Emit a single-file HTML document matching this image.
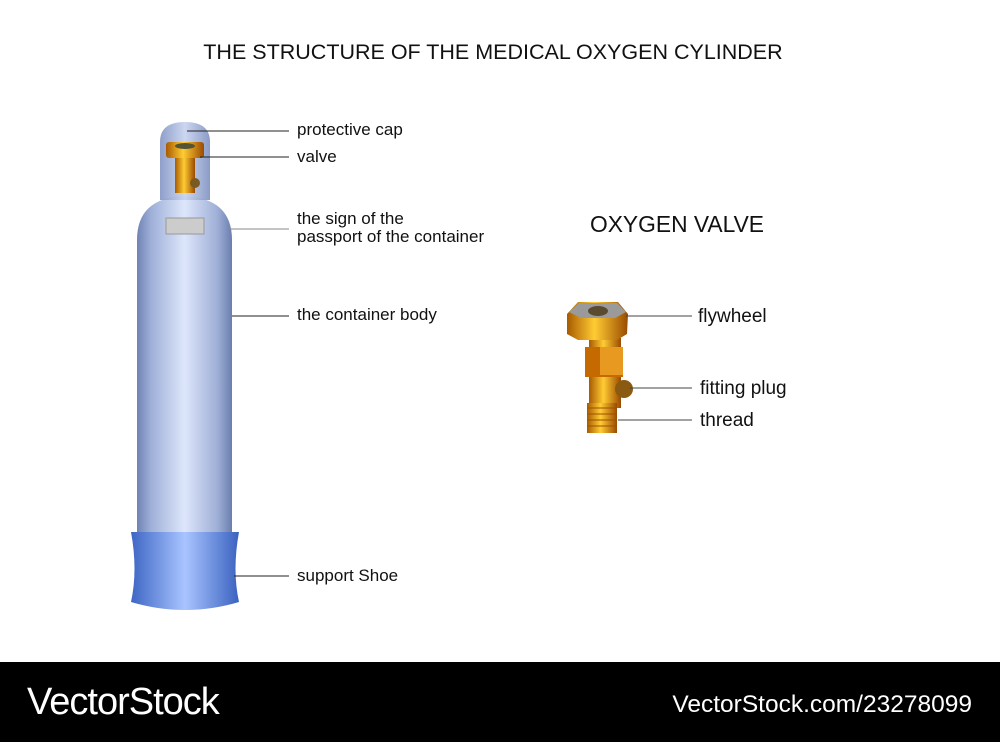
<!DOCTYPE html>
<html><head><style>
body{margin:0;width:1000px;height:742px;overflow:hidden;background:#fff;font-family:"Liberation Sans",sans-serif}
</style></head><body>
<svg width="1000" height="742" xmlns="http://www.w3.org/2000/svg" style="position:absolute;left:0;top:0">
<defs>
<linearGradient id="bg" x1="0" x2="1" y1="0" y2="0">
<stop offset="0" stop-color="#6f83b4"/><stop offset="0.15" stop-color="#9fb0d8"/><stop offset="0.5" stop-color="#dde6fb"/><stop offset="0.85" stop-color="#9eaed6"/><stop offset="1" stop-color="#6a7eae"/></linearGradient>
<linearGradient id="sg" x1="0" x2="1" y1="0" y2="0">
<stop offset="0" stop-color="#3d66c4"/><stop offset="0.5" stop-color="#a9c4ff"/><stop offset="1" stop-color="#3a62c0"/></linearGradient>
<linearGradient id="cg" x1="0" x2="1" y1="0" y2="0">
<stop offset="0" stop-color="#8294c4"/><stop offset="0.5" stop-color="#c6d2ee"/><stop offset="1" stop-color="#7e90c0"/></linearGradient>
<linearGradient id="gg" x1="0" x2="1" y1="0" y2="0">
<stop offset="0" stop-color="#a85a00"/><stop offset="0.45" stop-color="#ffcc33"/><stop offset="1" stop-color="#9a4a00"/></linearGradient>
</defs>
<text x="493" y="59" font-size="21.5" text-anchor="middle" fill="#111">THE STRUCTURE OF THE MEDICAL OXYGEN CYLINDER</text>
<path d="M137 240 Q137 198 184 196 Q232 198 232 240 L232 540 L137 540 Z" fill="url(#bg)"/>
<path d="M131 532 L239 532 Q232 570 239 602 Q185 618 131 602 Q138 570 131 532 Z" fill="url(#sg)"/>
<path d="M160 200 L160 142 Q160 122 185 122 Q210 122 210 142 L210 200 Z" fill="url(#cg)" opacity="0.9"/>
<rect x="175" y="158" width="20" height="35" fill="url(#gg)"/>
<rect x="166" y="142" width="38" height="16" rx="3" fill="url(#gg)"/>
<ellipse cx="185" cy="146" rx="10" ry="3" fill="#553"/>
<circle cx="195" cy="183" r="5" fill="#7a5a20"/>
<rect x="166" y="218" width="38" height="16" fill="#ccc" stroke="#999"/>
<g stroke="#222" stroke-width="1">
<line x1="187" y1="131" x2="289" y2="131"/>
<line x1="200" y1="157" x2="289" y2="157"/>
<line x1="228" y1="229" x2="289" y2="229" stroke="#888"/>
<line x1="232" y1="316" x2="289" y2="316"/>
<line x1="234" y1="576" x2="289" y2="576"/>
</g>
<g font-size="17" fill="#111">
<text x="297" y="135">protective cap</text>
<text x="297" y="162">valve</text>
<text x="297" y="224">the sign of the</text>
<text x="297" y="242">passport of the container</text>
<text x="297" y="320">the container body</text>
<text x="297" y="581">support Shoe</text>
</g>
<text x="590" y="232" font-size="22.8" fill="#111">OXYGEN VALVE</text>
<rect x="589" y="338" width="32" height="70" fill="url(#gg)"/>
<rect x="585" y="347" width="38" height="30" fill="#c56a00"/>
<rect x="600" y="347" width="23" height="28" fill="#e89a20"/>
<rect x="587" y="403" width="30" height="30" fill="url(#gg)"/>
<g stroke="#a05000" stroke-width="1"><line x1="587" y1="408" x2="617" y2="408"/><line x1="587" y1="414" x2="617" y2="414"/><line x1="587" y1="420" x2="617" y2="420"/><line x1="587" y1="426" x2="617" y2="426"/></g>
<circle cx="624" cy="389" r="9" fill="#8a5a10"/>
<path d="M567 314 L578 302 L618 302 L628 314 L627 334 L617 340 L578 340 L567 334 Z" fill="url(#gg)"/>
<path d="M569 312 L579 303 L617 303 L626 312 L615 318 L581 318 Z" fill="#9a9a9a"/>
<ellipse cx="598" cy="311" rx="10" ry="5" fill="#5a4a30"/>
<g stroke="#444" stroke-width="1">
<line x1="626" y1="316" x2="692" y2="316"/>
<line x1="630" y1="388" x2="692" y2="388"/>
<line x1="618" y1="420" x2="692" y2="420"/>
</g>
<g font-size="19" fill="#111">
<text x="698" y="322">flywheel</text>
<text x="700" y="394">fitting plug</text>
<text x="700" y="426">thread</text>
</g>
<rect x="0" y="662" width="1000" height="80" fill="#000"/>
<text x="27" y="714" font-size="38" fill="#fff" letter-spacing="-1">VectorStock</text>
<text x="972" y="712" font-size="24.5" fill="#fff" text-anchor="end">VectorStock.com/23278099</text>
</svg>
</body></html>
